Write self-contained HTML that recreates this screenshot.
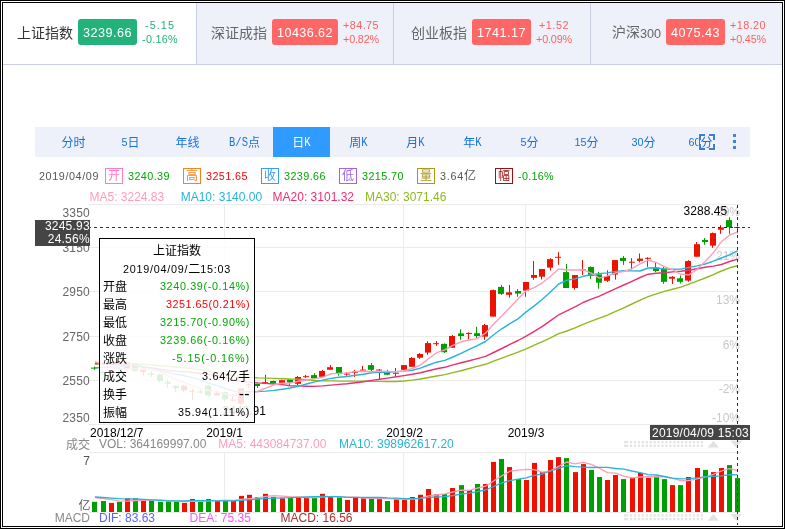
<!DOCTYPE html>
<html lang="zh-CN"><head><meta charset="utf-8"><title>上证指数 日K</title>
<style>
html,body{margin:0;padding:0}
.top,.pbar,.info,.chart,.tip{will-change:transform}
body{width:785px;height:529px;overflow:hidden;background:#fff;position:relative;font-family:"Liberation Sans","Noto Sans CJK SC",sans-serif}
.pr b,.ch i,.pt b,.ii b,.dt,.tip b,.tip .d u{font-family:"Liberation Sans",sans-serif;font-weight:normal;display:inline-block;text-decoration:none;font-size:10.8px}
.top{position:absolute;left:0;top:0;width:800px;height:64px;border-bottom:1px solid #c9cee1;background:#eef1fa}
.it{float:left;width:196px;height:64px;border-right:1px solid #c9cee1;text-align:center;line-height:64px;white-space:nowrap;font-size:0}
.it.on{background:#fff}
.it.p1{width:195px;padding-right:1px}
.it span{display:inline-block;vertical-align:middle}
.nm{font-size:14px;color:#666;line-height:20px;margin-right:5px;position:relative;top:1px}
.on .nm{color:#333}
.nm .m{font-size:12.6px}
.pr{height:26px;line-height:26px;padding:0 5px;border-radius:3px;color:#fff;font-size:0;margin-right:5px}
.pr b{font-size:12.6px;letter-spacing:.49px;position:relative;top:1px}
.ii s{text-decoration:none;font-size:12px;vertical-align:middle;color:#555}
.ch{font-size:10.8px;line-height:14px;text-align:center;position:relative;top:0;width:36px}
.ch i{letter-spacing:.45px}
.ch i{display:block;font-style:normal}
.dn .pr{background:#22b27a} .dn .ch{color:#22b27a}
.up .pr{background:#ff6666} .up .ch{color:#ff6060}
.pbar{position:absolute;left:35px;top:127px;width:715px;height:30px;background:#eef1fa;font-size:0;white-space:nowrap;overflow:hidden}
.pt{display:inline-block;width:57px;height:30px;line-height:32px;text-align:center;font-size:12px;color:#1472d8}
.pt:first-child{margin-left:10px}
.pt b{font-size:10.8px;position:relative;top:-1px}
.pt b.l{font-family:"Liberation Mono",monospace;font-size:10.5px;top:0;transform:translateY(-1.5px) scaleY(1.2)}
.pt.act{background:#2f9bff;color:#fff}
.fs{position:absolute;left:698px;top:133px}
.dots{position:absolute;left:733px;top:134px;width:3px;height:3px;background:#3c83e2;box-shadow:0 6px 0 #3c83e2,0 12px 0 #3c83e2}
.info{position:absolute;left:39px;top:167px;height:18px;line-height:18px;font-size:0;white-space:nowrap}
.dt{display:inline-block;width:66px;color:#555;vertical-align:middle;letter-spacing:.6px}
.ii{display:inline-block;width:78px;vertical-align:middle}
.ii em{display:inline-block;box-sizing:border-box;width:18px;height:16px;border:1px solid;font-style:normal;font-size:12px;line-height:14px;text-align:center;vertical-align:middle;margin-right:5px}
.ii b{vertical-align:middle;letter-spacing:.43px}
.g{color:#00a800} .r{color:#f00} .k{color:#000}
.ii b.k{color:#555}
.a{font:12px "Liberation Sans",sans-serif}
.w{letter-spacing:.22px}
.c{font:12px "Liberation Sans","Noto Sans CJK SC",sans-serif}
.chart{position:absolute;left:0;top:0}
.tip{position:absolute;left:99px;top:238px;width:154px;height:183px;border:1px solid #000;background:rgba(255,255,255,.86);font-size:12px;color:#000;line-height:18px}
.tip .t{text-align:center;margin-top:2.5px;height:18px}
.tip .d{text-align:center;font-size:0;height:18px}
.tip .d u{letter-spacing:.75px}
.tip .d span{font-size:12px}
.tr{padding:0 4px 0 3px;overflow:hidden;height:18px}
.tr span{float:left} .tr b{float:right;letter-spacing:.62px;position:relative;top:-.5px}
.tr em{float:right;font-style:normal}
.tr b.dd{font-size:16px;letter-spacing:.3px;top:-1px}
.frame{position:absolute;left:0;top:0;width:783px;height:527px;border:1px solid #000;pointer-events:none}
.frame:before{content:"";position:absolute;left:0;top:0;right:0;bottom:0;border:1px solid #fff}
.frame:after{content:"";position:absolute;left:1px;top:1px;right:1px;bottom:1px;border:1px solid #000}
</style></head><body>
<div class="top"><div class="it dn on p1"><span class="nm">上证指数</span><span class="pr"><b style="letter-spacing:0.49px">3239.66</b></span><span class="ch"><i style="letter-spacing:1.08px">-5.15</i><i style="letter-spacing:0.3px">-0.16%</i></span></div><div class="it up"><span class="nm">深证成指</span><span class="pr"><b style="letter-spacing:0.43px">10436.62</b></span><span class="ch"><i style="letter-spacing:0.44px">+84.75</i><i style="letter-spacing:-0.15px">+0.82%</i></span></div><div class="it up p1"><span class="nm">创业板指</span><span class="pr"><b style="letter-spacing:0.49px">1741.17</b></span><span class="ch"><i style="letter-spacing:0.53px">+1.52</i><i style="letter-spacing:-0.15px">+0.09%</i></span></div><div class="it up"><span class="nm">沪深<span class="m">300</span></span><span class="pr"><b style="letter-spacing:0.49px">4075.43</b></span><span class="ch"><i style="letter-spacing:0.44px">+18.20</i><i style="letter-spacing:-0.15px">+0.45%</i></span></div></div>
<div class="pbar"><span class="pt">分时</span><span class="pt"><b>5</b>日</span><span class="pt">年线</span><span class="pt"><b class="l">B/S</b>点</span><span class="pt act">日<b class="l">K</b></span><span class="pt">周<b class="l">K</b></span><span class="pt">月<b class="l">K</b></span><span class="pt">年<b class="l">K</b></span><span class="pt"><b>5</b>分</span><span class="pt"><b>15</b>分</span><span class="pt"><b>30</b>分</span><span class="pt"><b>60</b>分</span></div>
<svg class="fs" width="18" height="18" viewBox="-1 -1 18 18"><path d="M1 6V1h5M10 1h5v5M15 10v5h-5M6 15H1v-5" fill="none" stroke="#fff" stroke-opacity=".55" stroke-width="4"/><path d="M1 6V1h5M10 1h5v5M15 10v5h-5M6 15H1v-5" fill="none" stroke="#3a7cdc" stroke-width="2"/></svg>
<div class="dots"></div>
<div class="info"><span class="dt">2019/04/09</span><span class="ii"><em style="color:#ff7cc0;border-color:#ff7cc0">开</em><b class="g" style="letter-spacing:0.42px">3240.39</b></span><span class="ii"><em style="color:#f08228;border-color:#f08228">高</em><b class="r" style="letter-spacing:0.42px">3251.65</b></span><span class="ii"><em style="color:#3a9bf5;border-color:#3a9bf5">收</em><b class="g" style="letter-spacing:0.42px">3239.66</b></span><span class="ii"><em style="color:#a066e6;border-color:#a066e6">低</em><b class="g" style="letter-spacing:0.42px">3215.70</b></span><span class="ii"><em style="color:#a8981c;border-color:#a8981c">量</em><b class="k" style="letter-spacing:0.74px">3.64</b><s>亿</s></span><span class="ii"><em style="color:#9b1010;border-color:#9b1010">幅</em><b class="g" style="letter-spacing:0.3px">-0.16%</b></span></div>
<svg class="chart" width="785" height="529" viewBox="0 0 785 529">
<rect x="89" y="204" width="652" height="1" fill="#ebebeb"/>
<rect x="89" y="247" width="652" height="1" fill="#ebebeb"/>
<rect x="89" y="291" width="652" height="1" fill="#ebebeb"/>
<rect x="89" y="336" width="652" height="1" fill="#ebebeb"/>
<rect x="89" y="380" width="652" height="1" fill="#ebebeb"/>
<rect x="89" y="424" width="652" height="1" fill="#ebebeb"/>
<rect x="224" y="204" width="1" height="220" fill="#ebebeb"/>
<rect x="224" y="452" width="1" height="60" fill="#ebebeb"/>
<rect x="403" y="204" width="1" height="220" fill="#ebebeb"/>
<rect x="403" y="452" width="1" height="60" fill="#ebebeb"/>
<rect x="525" y="204" width="1" height="220" fill="#ebebeb"/>
<rect x="525" y="452" width="1" height="60" fill="#ebebeb"/>
<rect x="89" y="452" width="652" height="1" fill="#ebebeb"/>
<rect x="89" y="512" width="652" height="1" fill="#ebebeb"/>
<text x="740" y="216.3" text-anchor="end" fill="#c8c8c8" class="a">29%</text>
<text x="740" y="259.7" text-anchor="end" fill="#c8c8c8" class="a">21%</text>
<text x="740" y="304" text-anchor="end" fill="#c8c8c8" class="a">13%</text>
<text x="740" y="349" text-anchor="end" fill="#c8c8c8" class="a">6%</text>
<text x="740" y="393" text-anchor="end" fill="#c8c8c8" class="a">-2%</text>
<text x="740" y="421.5" text-anchor="end" fill="#c8c8c8" class="a">-10%</text>
<text x="90" y="216.5" text-anchor="end" fill="#666" class="a w">3350</text>
<text x="90" y="252" text-anchor="end" fill="#666" class="a w">3150</text>
<text x="90" y="296" text-anchor="end" fill="#666" class="a w">2950</text>
<text x="90" y="340.5" text-anchor="end" fill="#666" class="a w">2750</text>
<text x="90" y="384.5" text-anchor="end" fill="#666" class="a w">2550</text>
<text x="90" y="421.8" text-anchor="end" fill="#666" class="a w">2350</text>
<rect x="91" y="367.6" width="6" height="1.0" fill="#009f00"/>
<rect x="94" y="366.6" width="1" height="3.2" fill="#009f00"/>
<rect x="100" y="371.9" width="6" height="1.2" fill="#009f00"/>
<rect x="102" y="370.3" width="1" height="4.6" fill="#009f00"/>
<rect x="108" y="371.0" width="6" height="2.0" fill="#ee1100"/>
<rect x="110" y="370.3" width="1" height="3.3" fill="#ee1100"/>
<rect x="116" y="368.4" width="6" height="1.0" fill="#009f00"/>
<rect x="118" y="367.2" width="1" height="3.5" fill="#009f00"/>
<rect x="124" y="362.2" width="6" height="6.8" fill="#ee1100"/>
<rect x="126" y="360.9" width="1" height="8.8" fill="#ee1100"/>
<rect x="132" y="363.7" width="6" height="7.3" fill="#009f00"/>
<rect x="135" y="363.1" width="1" height="8.6" fill="#009f00"/>
<rect x="140" y="370.1" width="6" height="1.8" fill="#ee1100"/>
<rect x="143" y="369.5" width="1" height="6.0" fill="#ee1100"/>
<rect x="148" y="373.6" width="6" height="1.2" fill="#009f00"/>
<rect x="151" y="371.0" width="1" height="6.4" fill="#009f00"/>
<rect x="157" y="374.7" width="6" height="6.1" fill="#009f00"/>
<rect x="159" y="373.9" width="1" height="8.4" fill="#009f00"/>
<rect x="165" y="382.0" width="6" height="1.7" fill="#009f00"/>
<rect x="167" y="379.4" width="1" height="8.4" fill="#009f00"/>
<rect x="173" y="385.8" width="6" height="2.4" fill="#009f00"/>
<rect x="175" y="385.3" width="1" height="6.7" fill="#009f00"/>
<rect x="181" y="385.8" width="6" height="4.5" fill="#ee1100"/>
<rect x="183" y="385.3" width="1" height="6.4" fill="#ee1100"/>
<rect x="189" y="390.7" width="6" height="1.0" fill="#ee1100"/>
<rect x="192" y="388.6" width="1" height="11.3" fill="#ee1100"/>
<rect x="197" y="391.5" width="6" height="1.0" fill="#009f00"/>
<rect x="200" y="389.5" width="1" height="4.0" fill="#009f00"/>
<rect x="205" y="385.6" width="6" height="9.8" fill="#009f00"/>
<rect x="208" y="384.7" width="1" height="11.9" fill="#009f00"/>
<rect x="214" y="393.1" width="6" height="2.3" fill="#ee1100"/>
<rect x="216" y="390.6" width="1" height="5.3" fill="#ee1100"/>
<rect x="222" y="392.2" width="6" height="7.2" fill="#009f00"/>
<rect x="224" y="391.7" width="1" height="9.7" fill="#009f00"/>
<rect x="230" y="399.6" width="6" height="1.0" fill="#ee1100"/>
<rect x="232" y="394.3" width="1" height="7.2" fill="#ee1100"/>
<rect x="238" y="388.4" width="6" height="15.2" fill="#ee1100"/>
<rect x="240" y="388.4" width="1" height="16.4" fill="#ee1100"/>
<rect x="246" y="384.4" width="6" height="1.0" fill="#ee1100"/>
<rect x="248" y="383.6" width="1" height="4.7" fill="#ee1100"/>
<rect x="254" y="383.8" width="6" height="2.2" fill="#009f00"/>
<rect x="257" y="383.8" width="1" height="4.2" fill="#009f00"/>
<rect x="262" y="382.2" width="6" height="1.3" fill="#ee1100"/>
<rect x="265" y="374.8" width="1" height="8.7" fill="#ee1100"/>
<rect x="270" y="381.0" width="6" height="2.4" fill="#009f00"/>
<rect x="273" y="380.5" width="1" height="2.9" fill="#009f00"/>
<rect x="279" y="380.2" width="6" height="2.7" fill="#ee1100"/>
<rect x="281" y="380.2" width="1" height="2.7" fill="#ee1100"/>
<rect x="287" y="379.6" width="6" height="2.9" fill="#009f00"/>
<rect x="289" y="379.6" width="1" height="5.4" fill="#009f00"/>
<rect x="295" y="377.0" width="6" height="6.8" fill="#ee1100"/>
<rect x="297" y="375.9" width="1" height="9.1" fill="#ee1100"/>
<rect x="303" y="376.2" width="6" height="1.0" fill="#ee1100"/>
<rect x="305" y="374.8" width="1" height="3.0" fill="#ee1100"/>
<rect x="311" y="375.1" width="6" height="3.3" fill="#009f00"/>
<rect x="314" y="373.2" width="1" height="5.2" fill="#009f00"/>
<rect x="319" y="371.0" width="6" height="5.8" fill="#ee1100"/>
<rect x="322" y="370.0" width="1" height="6.8" fill="#ee1100"/>
<rect x="327" y="367.2" width="6" height="2.5" fill="#ee1100"/>
<rect x="330" y="365.0" width="1" height="4.7" fill="#ee1100"/>
<rect x="336" y="367.0" width="6" height="6.8" fill="#009f00"/>
<rect x="338" y="367.0" width="1" height="8.6" fill="#009f00"/>
<rect x="344" y="373.6" width="6" height="1.0" fill="#ee1100"/>
<rect x="346" y="372.4" width="1" height="3.3" fill="#ee1100"/>
<rect x="352" y="371.4" width="6" height="1.4" fill="#ee1100"/>
<rect x="354" y="369.8" width="1" height="7.2" fill="#ee1100"/>
<rect x="360" y="369.6" width="6" height="1.0" fill="#ee1100"/>
<rect x="362" y="366.0" width="1" height="4.6" fill="#ee1100"/>
<rect x="368" y="365.1" width="6" height="4.7" fill="#009f00"/>
<rect x="371" y="363.0" width="1" height="8.1" fill="#009f00"/>
<rect x="376" y="369.6" width="6" height="1.0" fill="#ee1100"/>
<rect x="379" y="369.0" width="1" height="10.1" fill="#ee1100"/>
<rect x="384" y="371.8" width="6" height="2.9" fill="#009f00"/>
<rect x="387" y="369.8" width="1" height="5.5" fill="#009f00"/>
<rect x="393" y="372.8" width="6" height="1.0" fill="#ee1100"/>
<rect x="395" y="368.0" width="1" height="8.2" fill="#ee1100"/>
<rect x="401" y="365.1" width="6" height="4.7" fill="#ee1100"/>
<rect x="403" y="365.1" width="1" height="4.7" fill="#ee1100"/>
<rect x="409" y="357.9" width="6" height="8.9" fill="#ee1100"/>
<rect x="411" y="357.1" width="1" height="9.7" fill="#ee1100"/>
<rect x="417" y="354.0" width="6" height="3.7" fill="#ee1100"/>
<rect x="419" y="353.0" width="1" height="5.9" fill="#ee1100"/>
<rect x="425" y="343.1" width="6" height="9.5" fill="#ee1100"/>
<rect x="427" y="341.2" width="1" height="13.7" fill="#ee1100"/>
<rect x="433" y="343.2" width="6" height="1.0" fill="#ee1100"/>
<rect x="436" y="341.0" width="1" height="4.9" fill="#ee1100"/>
<rect x="441" y="343.9" width="6" height="8.3" fill="#009f00"/>
<rect x="444" y="343.4" width="1" height="9.6" fill="#009f00"/>
<rect x="449" y="336.0" width="6" height="11.7" fill="#ee1100"/>
<rect x="452" y="335.0" width="1" height="12.7" fill="#ee1100"/>
<rect x="458" y="333.4" width="6" height="2.6" fill="#009f00"/>
<rect x="460" y="329.3" width="1" height="10.5" fill="#009f00"/>
<rect x="466" y="332.9" width="6" height="1.0" fill="#ee1100"/>
<rect x="468" y="332.4" width="1" height="6.7" fill="#ee1100"/>
<rect x="474" y="333.2" width="6" height="2.8" fill="#009f00"/>
<rect x="476" y="326.8" width="1" height="11.1" fill="#009f00"/>
<rect x="482" y="325.1" width="6" height="11.5" fill="#ee1100"/>
<rect x="484" y="323.9" width="1" height="15.9" fill="#ee1100"/>
<rect x="490" y="290.1" width="6" height="26.5" fill="#ee1100"/>
<rect x="493" y="289.5" width="1" height="27.1" fill="#ee1100"/>
<rect x="498" y="286.9" width="6" height="7.0" fill="#009f00"/>
<rect x="501" y="285.0" width="1" height="9.9" fill="#009f00"/>
<rect x="506" y="292.3" width="6" height="2.5" fill="#ee1100"/>
<rect x="509" y="285.0" width="1" height="12.7" fill="#ee1100"/>
<rect x="515" y="291.0" width="6" height="2.6" fill="#009f00"/>
<rect x="517" y="289.0" width="1" height="7.7" fill="#009f00"/>
<rect x="523" y="282.0" width="6" height="8.6" fill="#ee1100"/>
<rect x="525" y="282.0" width="1" height="14.7" fill="#ee1100"/>
<rect x="531" y="275.0" width="6" height="2.8" fill="#ee1100"/>
<rect x="533" y="261.0" width="1" height="18.7" fill="#ee1100"/>
<rect x="539" y="269.0" width="6" height="7.7" fill="#ee1100"/>
<rect x="541" y="269.0" width="1" height="10.5" fill="#ee1100"/>
<rect x="547" y="259.1" width="6" height="8.5" fill="#ee1100"/>
<rect x="550" y="258.2" width="1" height="12.4" fill="#ee1100"/>
<rect x="555" y="256.8" width="6" height="1.0" fill="#ee1100"/>
<rect x="558" y="252.1" width="1" height="12.7" fill="#ee1100"/>
<rect x="563" y="272.1" width="6" height="15.9" fill="#009f00"/>
<rect x="566" y="264.0" width="1" height="24.0" fill="#009f00"/>
<rect x="572" y="275.0" width="6" height="13.0" fill="#ee1100"/>
<rect x="574" y="275.0" width="1" height="14.7" fill="#ee1100"/>
<rect x="580" y="269.5" width="6" height="1.0" fill="#ee1100"/>
<rect x="582" y="260.0" width="1" height="15.0" fill="#ee1100"/>
<rect x="588" y="267.0" width="6" height="8.9" fill="#009f00"/>
<rect x="590" y="266.4" width="1" height="12.5" fill="#009f00"/>
<rect x="596" y="274.4" width="6" height="8.3" fill="#009f00"/>
<rect x="598" y="271.8" width="1" height="16.9" fill="#009f00"/>
<rect x="604" y="276.0" width="6" height="4.8" fill="#ee1100"/>
<rect x="607" y="270.3" width="1" height="11.7" fill="#ee1100"/>
<rect x="612" y="260.1" width="6" height="14.4" fill="#ee1100"/>
<rect x="615" y="260.1" width="1" height="19.5" fill="#ee1100"/>
<rect x="620" y="257.9" width="6" height="3.0" fill="#009f00"/>
<rect x="623" y="256.0" width="1" height="8.9" fill="#009f00"/>
<rect x="629" y="261.7" width="6" height="1.0" fill="#ee1100"/>
<rect x="631" y="258.2" width="1" height="11.2" fill="#ee1100"/>
<rect x="637" y="258.6" width="6" height="2.3" fill="#ee1100"/>
<rect x="639" y="253.5" width="1" height="8.9" fill="#ee1100"/>
<rect x="645" y="257.8" width="6" height="1.0" fill="#ee1100"/>
<rect x="647" y="257.3" width="1" height="9.5" fill="#ee1100"/>
<rect x="653" y="267.7" width="6" height="3.3" fill="#009f00"/>
<rect x="655" y="263.0" width="1" height="9.2" fill="#009f00"/>
<rect x="661" y="268.4" width="6" height="13.4" fill="#009f00"/>
<rect x="663" y="266.8" width="1" height="17.0" fill="#009f00"/>
<rect x="669" y="276.8" width="6" height="1.9" fill="#ee1100"/>
<rect x="672" y="276.1" width="1" height="7.9" fill="#ee1100"/>
<rect x="677" y="278.3" width="6" height="3.5" fill="#009f00"/>
<rect x="680" y="275.5" width="1" height="7.9" fill="#009f00"/>
<rect x="685" y="261.1" width="6" height="19.5" fill="#ee1100"/>
<rect x="688" y="260.2" width="1" height="21.6" fill="#ee1100"/>
<rect x="694" y="244.2" width="6" height="12.5" fill="#ee1100"/>
<rect x="696" y="242.0" width="1" height="14.7" fill="#ee1100"/>
<rect x="702" y="239.9" width="6" height="2.1" fill="#009f00"/>
<rect x="704" y="238.0" width="1" height="6.8" fill="#009f00"/>
<rect x="710" y="233.1" width="6" height="12.5" fill="#ee1100"/>
<rect x="712" y="232.5" width="1" height="15.3" fill="#ee1100"/>
<rect x="718" y="227.4" width="6" height="2.3" fill="#ee1100"/>
<rect x="720" y="225.1" width="1" height="8.7" fill="#ee1100"/>
<rect x="726" y="220.1" width="6" height="7.0" fill="#009f00"/>
<rect x="729" y="217.2" width="1" height="16.6" fill="#009f00"/>
<rect x="734" y="227.0" width="6" height="1.0" fill="#009f00"/>
<rect x="737" y="226.4" width="1" height="7.0" fill="#009f00"/>
<polyline points="94.9,364.0 103.0,363.7 111.2,363.5 119.3,363.5 127.4,363.3 135.6,363.9 143.7,364.4 151.9,365.0 160.0,365.7 168.1,366.4 176.3,367.0 184.4,367.7 192.5,368.9 200.7,369.8 208.8,371.2 217.0,372.6 225.1,374.3 233.2,375.6 241.4,376.6 249.5,377.5 257.6,377.9 265.8,378.1 273.9,378.4 282.1,378.7 290.2,379.0 298.3,379.1 306.5,379.7 314.6,380.5 322.7,380.9 330.9,380.9 339.0,381.1 347.1,381.1 355.3,381.1 363.4,381.1 371.6,381.4 379.7,381.4 387.8,381.5 396.0,381.5 404.1,381.0 412.2,380.1 420.4,379.0 428.5,377.5 436.7,376.0 444.8,374.6 452.9,372.6 461.1,370.7 469.2,368.5 477.3,366.4 485.5,364.3 493.6,361.1 501.8,358.1 509.9,355.1 518.0,352.1 526.2,348.8 534.3,345.2 542.4,341.7 550.6,337.8 558.7,333.7 566.8,331.0 575.0,327.9 583.1,324.4 591.3,321.1 599.4,318.2 607.5,315.1 615.7,311.4 623.8,307.8 631.9,304.0 640.1,300.2 648.2,296.6 656.4,293.8 664.5,291.4 672.6,289.2 680.8,287.1 688.9,284.1 697.0,281.1 705.2,278.0 713.3,274.6 721.4,271.0 729.6,267.8 737.7,265.7" fill="none" stroke="#8fba1e" stroke-width="1.4" stroke-linejoin="round"/>
<polyline points="94.9,363.3 103.0,363.8 111.2,364.5 119.3,364.8 127.4,365.2 135.6,366.1 143.7,367.3 151.9,368.0 160.0,369.2 168.1,370.4 176.3,371.1 184.4,371.6 192.5,372.4 200.7,373.5 208.8,374.4 217.0,375.5 225.1,377.6 233.2,379.8 241.4,381.3 249.5,382.1 257.6,382.9 265.8,383.4 273.9,384.0 282.1,384.6 290.2,385.7 298.3,385.9 306.5,386.2 314.6,386.4 322.7,385.9 330.9,385.1 339.0,384.4 347.1,383.8 355.3,382.8 363.4,381.7 371.6,380.4 379.7,379.3 387.8,378.1 396.0,376.8 404.1,375.6 412.2,374.3 420.4,372.7 428.5,370.8 436.7,368.7 444.8,367.3 452.9,364.9 461.1,362.8 469.2,360.7 477.3,358.6 485.5,356.3 493.6,352.5 501.8,348.5 509.9,344.4 518.0,340.5 526.2,336.2 534.3,331.4 542.4,326.4 550.6,320.6 558.7,314.8 566.8,310.9 575.0,306.8 583.1,302.5 591.3,299.2 599.4,296.2 607.5,292.4 615.7,288.7 623.8,285.0 631.9,281.3 640.1,277.5 648.2,274.2 656.4,273.3 664.5,272.7 672.6,271.9 680.8,271.3 688.9,270.2 697.0,268.7 705.2,267.3 713.3,266.1 721.4,264.5 729.6,261.5 737.7,259.1" fill="none" stroke="#e8326f" stroke-width="1.4" stroke-linejoin="round"/>
<polyline points="94.9,367.7 103.0,367.5 111.2,367.1 119.3,367.1 127.4,365.6 135.6,365.5 143.7,366.7 151.9,368.7 160.0,370.9 168.1,372.4 176.3,374.4 184.4,375.7 192.5,377.6 200.7,379.9 208.8,383.3 217.0,385.5 225.1,388.4 233.2,390.9 241.4,391.6 249.5,391.7 257.6,391.5 265.8,391.1 273.9,390.4 282.1,389.2 290.2,388.0 298.3,386.4 306.5,384.0 314.6,381.9 322.7,380.1 330.9,378.4 339.0,377.3 347.1,376.5 355.3,375.2 363.4,374.2 371.6,372.8 379.7,372.3 387.8,372.2 396.0,371.6 404.1,371.1 412.2,370.2 420.4,368.1 428.5,365.0 436.7,362.2 444.8,360.4 452.9,357.0 461.1,353.4 469.2,349.3 477.3,345.6 485.5,341.5 493.6,334.8 501.8,328.8 509.9,323.7 518.0,318.8 526.2,311.9 534.3,305.9 542.4,299.3 550.6,291.8 558.7,284.0 566.8,280.3 575.0,278.9 583.1,276.3 591.3,274.7 599.4,273.6 607.5,272.9 615.7,271.4 623.8,270.6 631.9,270.9 640.1,271.0 648.2,268.0 656.4,267.7 664.5,269.1 672.6,269.2 680.8,269.1 688.9,267.5 697.0,265.9 705.2,264.0 713.3,261.2 721.4,258.0 729.6,254.9 737.7,250.6" fill="none" stroke="#26b5d9" stroke-width="1.4" stroke-linejoin="round"/>
<polyline points="94.9,361.7 103.0,364.8 111.2,367.9 119.3,370.0 127.4,368.8 135.6,369.3 143.7,368.7 151.9,369.5 160.0,371.8 168.1,376.1 176.3,379.5 184.4,382.7 192.5,385.8 200.7,388.1 208.8,390.4 217.0,391.4 225.1,394.1 233.2,395.9 241.4,395.2 249.5,393.0 257.6,391.5 265.8,388.1 273.9,384.9 282.1,383.2 290.2,383.1 298.3,381.2 306.5,380.0 314.6,378.9 322.7,377.1 330.9,373.8 339.0,373.4 347.1,372.9 355.3,371.5 363.4,371.2 371.6,371.8 379.7,371.2 387.8,371.4 396.0,371.7 404.1,371.0 412.2,368.5 420.4,365.1 428.5,358.7 436.7,352.7 444.8,349.9 452.9,345.4 461.1,341.8 469.2,340.0 477.3,338.6 485.5,333.2 493.6,324.1 501.8,315.9 509.9,307.4 518.0,299.0 526.2,290.7 534.3,287.7 542.4,282.8 550.6,276.2 558.7,268.9 566.8,270.0 575.0,270.0 583.1,269.8 591.3,273.1 599.4,278.2 607.5,275.9 615.7,272.8 623.8,271.5 631.9,268.7 640.1,263.8 648.2,260.1 656.4,262.5 664.5,266.6 672.6,269.6 680.8,274.3 688.9,274.9 697.0,269.3 705.2,261.4 713.3,252.8 721.4,241.7 729.6,235.0 737.7,231.9" fill="none" stroke="#ff9cb9" stroke-width="1.4" stroke-linejoin="round"/>
<text x="683.4" y="214.6" fill="#000" class="a" letter-spacing=".08">3288.45</text>
<text x="222.6" y="414.7" fill="#000" class="a">2440.91</text>
<rect x="92" y="501.8" width="5" height="10.2" fill="#009f00"/>
<rect x="101" y="501.0" width="5" height="11.0" fill="#009f00"/>
<rect x="109" y="502.9" width="5" height="9.1" fill="#ee1100"/>
<rect x="117" y="501.8" width="5" height="10.2" fill="#009f00"/>
<rect x="125" y="498.3" width="5" height="13.7" fill="#ee1100"/>
<rect x="133" y="498.3" width="5" height="13.7" fill="#009f00"/>
<rect x="141" y="500.6" width="5" height="11.4" fill="#ee1100"/>
<rect x="149" y="500.6" width="5" height="11.4" fill="#009f00"/>
<rect x="158" y="501.8" width="5" height="10.2" fill="#009f00"/>
<rect x="166" y="501.5" width="5" height="10.5" fill="#009f00"/>
<rect x="174" y="501.5" width="5" height="10.5" fill="#009f00"/>
<rect x="182" y="502.9" width="5" height="9.1" fill="#ee1100"/>
<rect x="190" y="499.0" width="5" height="13.0" fill="#ee1100"/>
<rect x="198" y="501.5" width="5" height="10.5" fill="#009f00"/>
<rect x="206" y="499.0" width="5" height="13.0" fill="#009f00"/>
<rect x="215" y="501.0" width="5" height="11.0" fill="#ee1100"/>
<rect x="223" y="500.6" width="5" height="11.4" fill="#009f00"/>
<rect x="231" y="500.6" width="5" height="11.4" fill="#ee1100"/>
<rect x="239" y="495.9" width="5" height="16.1" fill="#ee1100"/>
<rect x="247" y="494.8" width="5" height="17.2" fill="#ee1100"/>
<rect x="255" y="497.0" width="5" height="15.0" fill="#009f00"/>
<rect x="263" y="493.8" width="5" height="18.2" fill="#ee1100"/>
<rect x="271" y="496.8" width="5" height="15.2" fill="#009f00"/>
<rect x="280" y="498.3" width="5" height="13.7" fill="#ee1100"/>
<rect x="288" y="497.8" width="5" height="14.2" fill="#009f00"/>
<rect x="296" y="497.4" width="5" height="14.6" fill="#ee1100"/>
<rect x="304" y="497.4" width="5" height="14.6" fill="#ee1100"/>
<rect x="312" y="497.4" width="5" height="14.6" fill="#009f00"/>
<rect x="320" y="493.8" width="5" height="18.2" fill="#ee1100"/>
<rect x="328" y="496.8" width="5" height="15.2" fill="#ee1100"/>
<rect x="337" y="497.4" width="5" height="14.6" fill="#009f00"/>
<rect x="345" y="499.9" width="5" height="12.1" fill="#ee1100"/>
<rect x="353" y="497.8" width="5" height="14.2" fill="#ee1100"/>
<rect x="361" y="498.0" width="5" height="14.0" fill="#ee1100"/>
<rect x="369" y="498.7" width="5" height="13.3" fill="#009f00"/>
<rect x="377" y="498.2" width="5" height="13.8" fill="#ee1100"/>
<rect x="385" y="501.0" width="5" height="11.0" fill="#009f00"/>
<rect x="394" y="498.9" width="5" height="13.1" fill="#ee1100"/>
<rect x="402" y="499.9" width="5" height="12.1" fill="#ee1100"/>
<rect x="410" y="497.0" width="5" height="15.0" fill="#ee1100"/>
<rect x="418" y="494.8" width="5" height="17.2" fill="#ee1100"/>
<rect x="426" y="489.0" width="5" height="23.0" fill="#ee1100"/>
<rect x="434" y="494.4" width="5" height="17.6" fill="#ee1100"/>
<rect x="442" y="494.0" width="5" height="18.0" fill="#009f00"/>
<rect x="450" y="488.0" width="5" height="24.0" fill="#ee1100"/>
<rect x="459" y="485.1" width="5" height="26.9" fill="#009f00"/>
<rect x="467" y="490.0" width="5" height="22.0" fill="#ee1100"/>
<rect x="475" y="484.0" width="5" height="28.0" fill="#009f00"/>
<rect x="483" y="484.0" width="5" height="28.0" fill="#ee1100"/>
<rect x="491" y="461.9" width="5" height="50.1" fill="#ee1100"/>
<rect x="499" y="459.0" width="5" height="53.0" fill="#009f00"/>
<rect x="507" y="467.0" width="5" height="45.0" fill="#ee1100"/>
<rect x="516" y="479.1" width="5" height="32.9" fill="#009f00"/>
<rect x="524" y="480.0" width="5" height="32.0" fill="#ee1100"/>
<rect x="532" y="462.9" width="5" height="49.1" fill="#ee1100"/>
<rect x="540" y="472.1" width="5" height="39.9" fill="#ee1100"/>
<rect x="548" y="460.0" width="5" height="52.0" fill="#ee1100"/>
<rect x="556" y="457.1" width="5" height="54.9" fill="#ee1100"/>
<rect x="564" y="458.1" width="5" height="53.9" fill="#009f00"/>
<rect x="573" y="472.1" width="5" height="39.9" fill="#ee1100"/>
<rect x="581" y="464.1" width="5" height="47.9" fill="#ee1100"/>
<rect x="589" y="469.9" width="5" height="42.1" fill="#009f00"/>
<rect x="597" y="477.0" width="5" height="35.0" fill="#009f00"/>
<rect x="605" y="480.0" width="5" height="32.0" fill="#ee1100"/>
<rect x="613" y="475.0" width="5" height="37.0" fill="#ee1100"/>
<rect x="621" y="479.1" width="5" height="32.9" fill="#009f00"/>
<rect x="630" y="477.8" width="5" height="34.2" fill="#ee1100"/>
<rect x="638" y="473.0" width="5" height="39.0" fill="#ee1100"/>
<rect x="646" y="477.8" width="5" height="34.2" fill="#ee1100"/>
<rect x="654" y="476.6" width="5" height="35.4" fill="#009f00"/>
<rect x="662" y="479.1" width="5" height="32.9" fill="#009f00"/>
<rect x="670" y="485.1" width="5" height="26.9" fill="#ee1100"/>
<rect x="678" y="485.1" width="5" height="26.9" fill="#009f00"/>
<rect x="686" y="477.0" width="5" height="35.0" fill="#ee1100"/>
<rect x="695" y="468.0" width="5" height="44.0" fill="#ee1100"/>
<rect x="703" y="469.9" width="5" height="42.1" fill="#009f00"/>
<rect x="711" y="472.1" width="5" height="39.9" fill="#ee1100"/>
<rect x="719" y="468.0" width="5" height="44.0" fill="#ee1100"/>
<rect x="727" y="465.1" width="5" height="46.9" fill="#009f00"/>
<rect x="735" y="478.1" width="5" height="33.9" fill="#009f00"/>
<polyline points="94.9,497.6 103.0,498.5 111.2,499.7 119.3,500.8 127.4,501.2 135.6,500.5 143.7,500.4 151.9,499.9 160.0,499.9 168.1,500.6 176.3,501.2 184.4,501.7 192.5,501.3 200.7,501.3 208.8,500.8 217.0,500.7 225.1,500.2 233.2,500.5 241.4,499.4 249.5,498.6 257.6,497.8 265.8,496.4 273.9,495.7 282.1,496.1 290.2,496.7 298.3,496.8 306.5,497.5 314.6,497.7 322.7,496.8 330.9,496.6 339.0,496.6 347.1,497.1 355.3,497.1 363.4,498.0 371.6,498.4 379.7,498.5 387.8,498.7 396.0,499.0 404.1,499.3 412.2,499.0 420.4,498.3 428.5,495.9 436.7,495.0 444.8,493.8 452.9,492.0 461.1,490.1 469.2,490.3 477.3,488.2 485.5,486.2 493.6,481.0 501.8,475.8 509.9,471.2 518.0,470.2 526.2,469.4 534.3,469.6 542.4,472.2 550.6,470.8 558.7,466.4 566.8,462.0 575.0,463.9 583.1,462.3 591.3,464.3 599.4,468.2 607.5,472.6 615.7,473.2 623.8,476.2 631.9,477.8 640.1,477.0 648.2,476.5 656.4,476.9 664.5,476.9 672.6,478.3 680.8,480.7 688.9,480.6 697.0,478.9 705.2,477.0 713.3,474.4 721.4,471.0 729.6,468.6 737.7,470.6" fill="none" stroke="#ff9cb9" stroke-width="1.3" stroke-linejoin="round"/>
<polyline points="94.9,497.0 103.0,497.5 111.2,498.1 119.3,498.6 127.4,498.8 135.6,499.0 143.7,499.4 151.9,499.8 160.0,500.4 168.1,500.9 176.3,500.8 184.4,501.0 192.5,500.6 200.7,500.6 208.8,500.7 217.0,500.9 225.1,500.9 233.2,500.9 241.4,500.4 249.5,499.7 257.6,499.2 265.8,498.3 273.9,498.1 282.1,497.8 290.2,497.7 298.3,497.3 306.5,497.0 314.6,496.7 322.7,496.4 330.9,496.6 339.0,496.7 347.1,497.3 355.3,497.4 363.4,497.4 371.6,497.5 379.7,497.5 387.8,497.9 396.0,498.1 404.1,498.7 412.2,498.7 420.4,498.4 428.5,497.3 436.7,497.0 444.8,496.6 452.9,495.5 461.1,494.2 469.2,493.1 477.3,491.6 485.5,490.0 493.6,486.5 501.8,482.9 509.9,480.7 518.0,479.2 526.2,477.8 534.3,475.3 542.4,474.0 550.6,471.0 558.7,468.3 566.8,465.7 575.0,466.7 583.1,467.2 591.3,467.5 599.4,467.3 607.5,467.3 615.7,468.5 623.8,469.2 631.9,471.0 640.1,472.6 648.2,474.6 656.4,475.0 664.5,476.5 672.6,478.1 680.8,478.9 688.9,478.6 697.0,477.9 705.2,476.9 713.3,476.4 721.4,475.9 729.6,474.6 737.7,474.8" fill="none" stroke="#26b5d9" stroke-width="1.3" stroke-linejoin="round"/>
<text x="90" y="436.6" fill="#000" class="a">2018/12/7</text>
<text x="224.5" y="436.6" text-anchor="middle" fill="#000" class="a">2019/1</text>
<text x="404.5" y="436.6" text-anchor="middle" fill="#000" class="a">2019/2</text>
<text x="526" y="436.6" text-anchor="middle" fill="#000" class="a">2019/3</text>
<text x="90" y="448.5" text-anchor="end" fill="#888" class="c">成交</text>
<text x="99" y="447.6" fill="#888" class="a">VOL: 364169997.00</text>
<text x="218.3" y="447.6" fill="#ff9cb9" class="a">MA5: 443084737.00</text>
<text x="339" y="447.6" fill="#26b5d9" class="a">MA10: 398962617.20</text>
<text x="90" y="465" text-anchor="end" fill="#555" class="a">7</text>
<text x="90.5" y="510" text-anchor="end" fill="#555" class="c">亿</text>
<text x="90" y="521.7" text-anchor="end" fill="#888" class="a">MACD</text>
<text x="99" y="521.7" fill="#5566ff" class="a">DIF: 83.63</text>
<text x="189.5" y="521.7" fill="#ff55ff" class="a">DEA: 75.35</text>
<text x="280.5" y="521.7" fill="#a83232" class="a">MACD: 16.56</text>
<text x="89.5" y="200.8" fill="#ff9cb9" class="a">MA5: 3224.83</text>
<text x="180.7" y="200.8" fill="#26b5d9" class="a">MA10: 3140.00</text>
<text x="272.6" y="200.8" fill="#e8326f" class="a">MA20: 3101.32</text>
<text x="365" y="200.8" fill="#8fba1e" class="a">MA30: 3071.46</text>
<rect x="624" y="440.9" width="4.2" height="2.4" fill="#e4e4e4"/><rect x="629.9" y="440.9" width="2.3" height="2.4" fill="#e4e4e4"/><rect x="633.9" y="440.9" width="2.3" height="2.4" fill="#e4e4e4"/><rect x="637.8" y="440.9" width="2.3" height="2.4" fill="#e4e4e4"/><rect x="641.7" y="440.9" width="2.3" height="2.4" fill="#e4e4e4"/><rect x="645.6" y="440.9" width="2.3" height="2.4" fill="#e4e4e4"/><rect x="649.6" y="440.9" width="2.3" height="2.4" fill="#e4e4e4"/><rect x="653.5" y="440.9" width="2.3" height="2.4" fill="#e4e4e4"/><rect x="657.4" y="440.9" width="2.3" height="2.4" fill="#e4e4e4"/><rect x="661.4" y="440.9" width="2.3" height="2.4" fill="#e4e4e4"/><rect x="665.3" y="440.9" width="2.3" height="2.4" fill="#e4e4e4"/><rect x="669.2" y="440.9" width="2.3" height="2.4" fill="#e4e4e4"/><rect x="673.2" y="440.9" width="2.3" height="2.4" fill="#e4e4e4"/><rect x="677.1" y="440.9" width="2.3" height="2.4" fill="#e4e4e4"/><rect x="681.0" y="440.9" width="2.3" height="2.4" fill="#e4e4e4"/><rect x="685.0" y="440.9" width="2.3" height="2.4" fill="#e4e4e4"/><rect x="688.9" y="440.9" width="2.3" height="2.4" fill="#e4e4e4"/><rect x="692.8" y="440.9" width="2.3" height="2.4" fill="#e4e4e4"/><rect x="696.7" y="440.9" width="2.3" height="2.4" fill="#e4e4e4"/><rect x="700.7" y="440.9" width="2.3" height="2.4" fill="#e4e4e4"/><rect x="624" y="444.6" width="4.2" height="2.4" fill="#e4e4e4"/><rect x="629.9" y="444.6" width="2.3" height="2.4" fill="#e4e4e4"/><rect x="633.9" y="444.6" width="2.3" height="2.4" fill="#e4e4e4"/><rect x="637.8" y="444.6" width="2.3" height="2.4" fill="#e4e4e4"/><rect x="641.7" y="444.6" width="2.3" height="2.4" fill="#e4e4e4"/><rect x="645.6" y="444.6" width="2.3" height="2.4" fill="#e4e4e4"/><rect x="649.6" y="444.6" width="2.3" height="2.4" fill="#e4e4e4"/><rect x="653.5" y="444.6" width="2.3" height="2.4" fill="#e4e4e4"/><rect x="657.4" y="444.6" width="2.3" height="2.4" fill="#e4e4e4"/><rect x="661.4" y="444.6" width="2.3" height="2.4" fill="#e4e4e4"/><rect x="665.3" y="444.6" width="2.3" height="2.4" fill="#e4e4e4"/><rect x="669.2" y="444.6" width="2.3" height="2.4" fill="#e4e4e4"/><rect x="673.2" y="444.6" width="2.3" height="2.4" fill="#e4e4e4"/><rect x="677.1" y="444.6" width="2.3" height="2.4" fill="#e4e4e4"/><rect x="681.0" y="444.6" width="2.3" height="2.4" fill="#e4e4e4"/><rect x="685.0" y="444.6" width="2.3" height="2.4" fill="#e4e4e4"/><rect x="688.9" y="444.6" width="2.3" height="2.4" fill="#e4e4e4"/><rect x="692.8" y="444.6" width="2.3" height="2.4" fill="#e4e4e4"/><rect x="696.7" y="444.6" width="2.3" height="2.4" fill="#e4e4e4"/><rect x="700.7" y="444.6" width="2.3" height="2.4" fill="#e4e4e4"/><path d="M707.7 447.5 L713.4 440.7 L719 447.5 Z M730.4 440.7 L742 440.7 L736.2 447.5 Z" fill="#e2e2e2"/>
<rect x="624" y="514.2" width="4.2" height="2.4" fill="#e4e4e4"/><rect x="629.9" y="514.2" width="2.3" height="2.4" fill="#e4e4e4"/><rect x="633.9" y="514.2" width="2.3" height="2.4" fill="#e4e4e4"/><rect x="637.8" y="514.2" width="2.3" height="2.4" fill="#e4e4e4"/><rect x="641.7" y="514.2" width="2.3" height="2.4" fill="#e4e4e4"/><rect x="645.6" y="514.2" width="2.3" height="2.4" fill="#e4e4e4"/><rect x="649.6" y="514.2" width="2.3" height="2.4" fill="#e4e4e4"/><rect x="653.5" y="514.2" width="2.3" height="2.4" fill="#e4e4e4"/><rect x="657.4" y="514.2" width="2.3" height="2.4" fill="#e4e4e4"/><rect x="661.4" y="514.2" width="2.3" height="2.4" fill="#e4e4e4"/><rect x="665.3" y="514.2" width="2.3" height="2.4" fill="#e4e4e4"/><rect x="669.2" y="514.2" width="2.3" height="2.4" fill="#e4e4e4"/><rect x="673.2" y="514.2" width="2.3" height="2.4" fill="#e4e4e4"/><rect x="677.1" y="514.2" width="2.3" height="2.4" fill="#e4e4e4"/><rect x="681.0" y="514.2" width="2.3" height="2.4" fill="#e4e4e4"/><rect x="685.0" y="514.2" width="2.3" height="2.4" fill="#e4e4e4"/><rect x="688.9" y="514.2" width="2.3" height="2.4" fill="#e4e4e4"/><rect x="692.8" y="514.2" width="2.3" height="2.4" fill="#e4e4e4"/><rect x="696.7" y="514.2" width="2.3" height="2.4" fill="#e4e4e4"/><rect x="700.7" y="514.2" width="2.3" height="2.4" fill="#e4e4e4"/><rect x="624" y="517.9" width="4.2" height="2.4" fill="#e4e4e4"/><rect x="629.9" y="517.9" width="2.3" height="2.4" fill="#e4e4e4"/><rect x="633.9" y="517.9" width="2.3" height="2.4" fill="#e4e4e4"/><rect x="637.8" y="517.9" width="2.3" height="2.4" fill="#e4e4e4"/><rect x="641.7" y="517.9" width="2.3" height="2.4" fill="#e4e4e4"/><rect x="645.6" y="517.9" width="2.3" height="2.4" fill="#e4e4e4"/><rect x="649.6" y="517.9" width="2.3" height="2.4" fill="#e4e4e4"/><rect x="653.5" y="517.9" width="2.3" height="2.4" fill="#e4e4e4"/><rect x="657.4" y="517.9" width="2.3" height="2.4" fill="#e4e4e4"/><rect x="661.4" y="517.9" width="2.3" height="2.4" fill="#e4e4e4"/><rect x="665.3" y="517.9" width="2.3" height="2.4" fill="#e4e4e4"/><rect x="669.2" y="517.9" width="2.3" height="2.4" fill="#e4e4e4"/><rect x="673.2" y="517.9" width="2.3" height="2.4" fill="#e4e4e4"/><rect x="677.1" y="517.9" width="2.3" height="2.4" fill="#e4e4e4"/><rect x="681.0" y="517.9" width="2.3" height="2.4" fill="#e4e4e4"/><rect x="685.0" y="517.9" width="2.3" height="2.4" fill="#e4e4e4"/><rect x="688.9" y="517.9" width="2.3" height="2.4" fill="#e4e4e4"/><rect x="692.8" y="517.9" width="2.3" height="2.4" fill="#e4e4e4"/><rect x="696.7" y="517.9" width="2.3" height="2.4" fill="#e4e4e4"/><rect x="700.7" y="517.9" width="2.3" height="2.4" fill="#e4e4e4"/><path d="M707.7 520.8000000000001 L713.4 514.0 L719 520.8000000000001 Z M730.4 514.0 L742 514.0 L736.2 520.8000000000001 Z" fill="#e2e2e2"/>
<line x1="88" y1="227.5" x2="750" y2="227.5" stroke="#303030" stroke-width="1" stroke-dasharray="3,3"/>
<line x1="737.5" y1="205" x2="737.5" y2="525" stroke="#303030" stroke-width="1" stroke-dasharray="3,3"/>
<rect x="35" y="220" width="55" height="26" fill="#454545"/>
<text x="89.8" y="230.4" text-anchor="end" fill="#fff" class="a w">3245.93</text>
<text x="89.8" y="242.8" text-anchor="end" fill="#fff" class="a w">24.56%</text>
<rect x="650" y="425" width="100" height="15" fill="#454545"/>
<text x="652" y="436.7" fill="#fff" class="a w">2019/04/09 15:03</text>
</svg>
<div class="tip"><div class="t">上证指数</div><div class="d"><u>2019/04/09/</u><span>二</span><u>15:03</u></div><div class="tr"><span>开盘</span><b class="g" style="letter-spacing:0.64px">3240.39(-0.14%)</b></div><div class="tr"><span>最高</span><b class="r" style="letter-spacing:0.51px">3251.65(0.21%)</b></div><div class="tr"><span>最低</span><b class="g" style="letter-spacing:0.64px">3215.70(-0.90%)</b></div><div class="tr"><span>收盘</span><b class="g" style="letter-spacing:0.64px">3239.66(-0.16%)</b></div><div class="tr"><span>涨跌</span><b class="g" style="letter-spacing:0.92px">-5.15(-0.16%)</b></div><div class="tr"><span>成交</span><em>亿手</em><b class="k" style="letter-spacing:0.74px">3.64</b></div><div class="tr"><span>换手</span><b class="k dd">--</b></div><div class="tr"><span>振幅</span><b class="k" style="letter-spacing:0.66px">35.94(1.11%)</b></div></div>
<div class="frame"></div>
</body></html>
